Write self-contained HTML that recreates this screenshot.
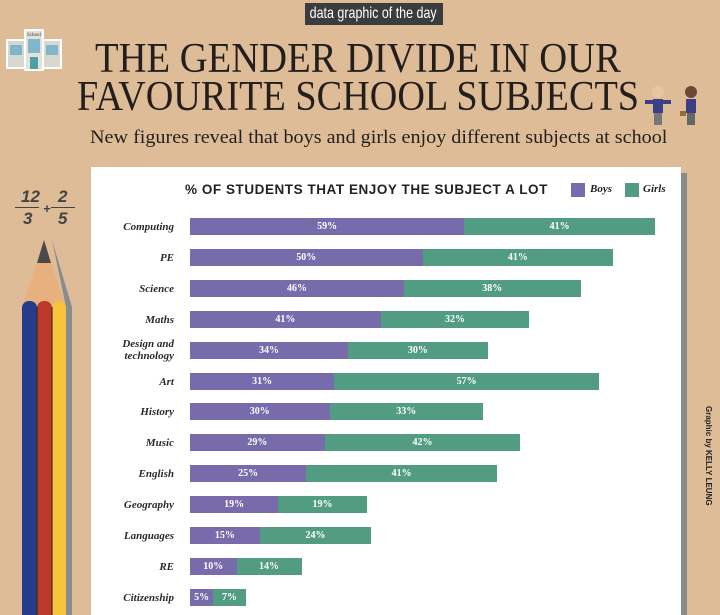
<!DOCTYPE html>
<html><head><meta charset="utf-8"><style>
body{margin:0;width:720px;height:615px;background:#dfbc98;position:relative;overflow:hidden;font-family:"Liberation Serif",serif}
.a{position:absolute}
.lbl{position:absolute;right:546px;width:110px;text-align:right;font:italic bold 11px "Liberation Serif",serif;color:#2a2a2a;line-height:12px}
.b{position:absolute;height:17px;color:#fff;font:bold 10px "Liberation Serif",serif;text-align:center;line-height:17px}
.bo{background:#776bab}.gi{background:#529d81}
</style></head><body>
<div class="a" style="left:305px;top:3px;width:138px;height:22px;background:#3b3c3e;"></div>
<div class="a" style="left:305px;top:3px;width:138px;height:22px;color:#fff;font:16px 'Liberation Sans Narrow','Liberation Sans',sans-serif;line-height:22px;white-space:nowrap;overflow:hidden"><span style="display:inline-block;transform:scaleX(0.78);transform-origin:left;padding-left:6px">data graphic of the day</span></div>
<svg class="a" style="left:5px;top:25px" width="58" height="48"><rect x="2" y="15" width="54" height="28" fill="#d8d8d0" stroke="#fff" stroke-width="2"/><rect x="20" y="5" width="18" height="40" fill="#e4e2d8" stroke="#fff" stroke-width="2"/><rect x="5" y="20" width="12" height="10" fill="#7fb6cc"/><rect x="41" y="20" width="12" height="10" fill="#7fb6cc"/><rect x="23" y="14" width="12" height="14" fill="#7fb6cc"/><rect x="25" y="32" width="8" height="12" fill="#4e9fa6"/><text x="22" y="11" font-size="5" fill="#333">School</text></svg>
<div class="a" style="left:95px;top:38px;font-size:42px;line-height:42px;color:#231f1c;transform:scaleX(0.92);transform-origin:left;white-space:nowrap">THE GENDER DIVIDE IN OUR</div>
<div class="a" style="left:77px;top:76px;font-size:42px;line-height:42px;color:#231f1c;transform:scaleX(0.91);transform-origin:left;white-space:nowrap">FAVOURITE SCHOOL SUBJECTS</div>
<svg class="a" style="left:643px;top:84px" width="65" height="42"><circle cx="15" cy="8" r="6" fill="#e8c6a0"/><rect x="10" y="15" width="10" height="14" fill="#3a3f86"/><rect x="2" y="16" width="26" height="4" fill="#3a3f86"/><rect x="11" y="29" width="8" height="12" fill="#777"/><circle cx="48" cy="8" r="6" fill="#6b4a35"/><rect x="43" y="15" width="10" height="14" fill="#3a3f86"/><rect x="44" y="29" width="8" height="12" fill="#666"/><rect x="37" y="27" width="6" height="5" fill="#9b6a33"/></svg>
<div class="a" style="left:90px;top:127px;font-size:19px;color:#231f1c;transform:scaleX(1.06);transform-origin:left;white-space:nowrap">New figures reveal that boys and girls enjoy different subjects at school</div>
<div class="a" style="left:15px;top:188px;font:italic bold 17px 'Liberation Sans',sans-serif;color:#444;line-height:17px">
<span class="a" style="left:6px;top:0">12</span><span class="a" style="left:0px;top:19px;width:24px;border-top:1.5px solid #444"></span><span class="a" style="left:8px;top:22px">3</span>
<span class="a" style="left:28px;top:12px;font-size:13px">+</span>
<span class="a" style="left:43px;top:0">2</span><span class="a" style="left:36px;top:19px;width:24px;border-top:1.5px solid #444"></span><span class="a" style="left:43px;top:22px">5</span></div>
<svg class="a" style="left:0;top:235px" width="80" height="380"><polygon points="52,5 72,72 72,380 66,380 66,72" fill="#8a8b8c"/><polygon points="44,5 22,72 66,72" fill="#e7b17f"/><polygon points="44,5 37,28 51,28" fill="#4a4a4c"/>
<rect x="22" y="66" width="15" height="320" rx="7" fill="#253c8a"/><rect x="37" y="66" width="15" height="320" rx="7" fill="#bb3a2a"/><rect x="52" y="66" width="14" height="320" rx="7" fill="#f8c33c"/><line x1="37" y1="72" x2="37" y2="380" stroke="#222" stroke-width="1"/><line x1="52" y1="72" x2="52" y2="380" stroke="#222" stroke-width="1"/></svg>
<div class="a" style="left:91px;top:167px;width:590px;height:448px;background:#fff"></div>
<div class="a" style="left:681px;top:173px;width:6px;height:442px;background:#878b8d"></div>
<div class="a" style="top:406px;font:bold 8px 'Liberation Sans',sans-serif;color:#222;transform:rotate(90deg);transform-origin:left top;white-space:nowrap;left:713px">Graphic by KELLY LEUNG</div>
<div class="a" style="left:185px;top:182px;font:bold 13.5px 'Liberation Sans',sans-serif;letter-spacing:0.55px;color:#222;white-space:nowrap">% OF STUDENTS THAT ENJOY THE SUBJECT A LOT</div>
<div class="a bo" style="left:571px;top:183px;width:14px;height:14px"></div><div class="a" style="left:590px;top:183px;font:italic bold 11px 'Liberation Serif',serif;color:#222">Boys</div>
<div class="a gi" style="left:625px;top:183px;width:14px;height:14px"></div><div class="a" style="left:643px;top:183px;font:italic bold 11px 'Liberation Serif',serif;color:#222">Girls</div>
<div id="c"></div>
<script>
var d=[["Computing",59,41],["PE",50,41],["Science",46,38],["Maths",41,32],["Design and<br>technology",34,30],["Art",31,57],["History",30,33],["Music",29,42],["English",25,41],["Geography",19,19],["Languages",15,24],["RE",10,14],["Citizenship",5,7]];
var h="",s=4.65;
d.forEach(function(r,i){var t=218+i*30.9;var bw=r[1]*s,gw=r[2]*s;
var lt=r[0].indexOf("<br>")>0?t-4:t+3;
h+='<div class="lbl" style="top:'+lt+'px">'+r[0]+'</div>';
h+='<div class="b bo" style="left:190px;top:'+t+'px;width:'+bw+'px">'+r[1]+'%</div>';
h+='<div class="b gi" style="left:'+(190+bw)+'px;top:'+t+'px;width:'+gw+'px">'+r[2]+'%</div>';});
document.getElementById("c").innerHTML=h;
</script>
</body></html>
